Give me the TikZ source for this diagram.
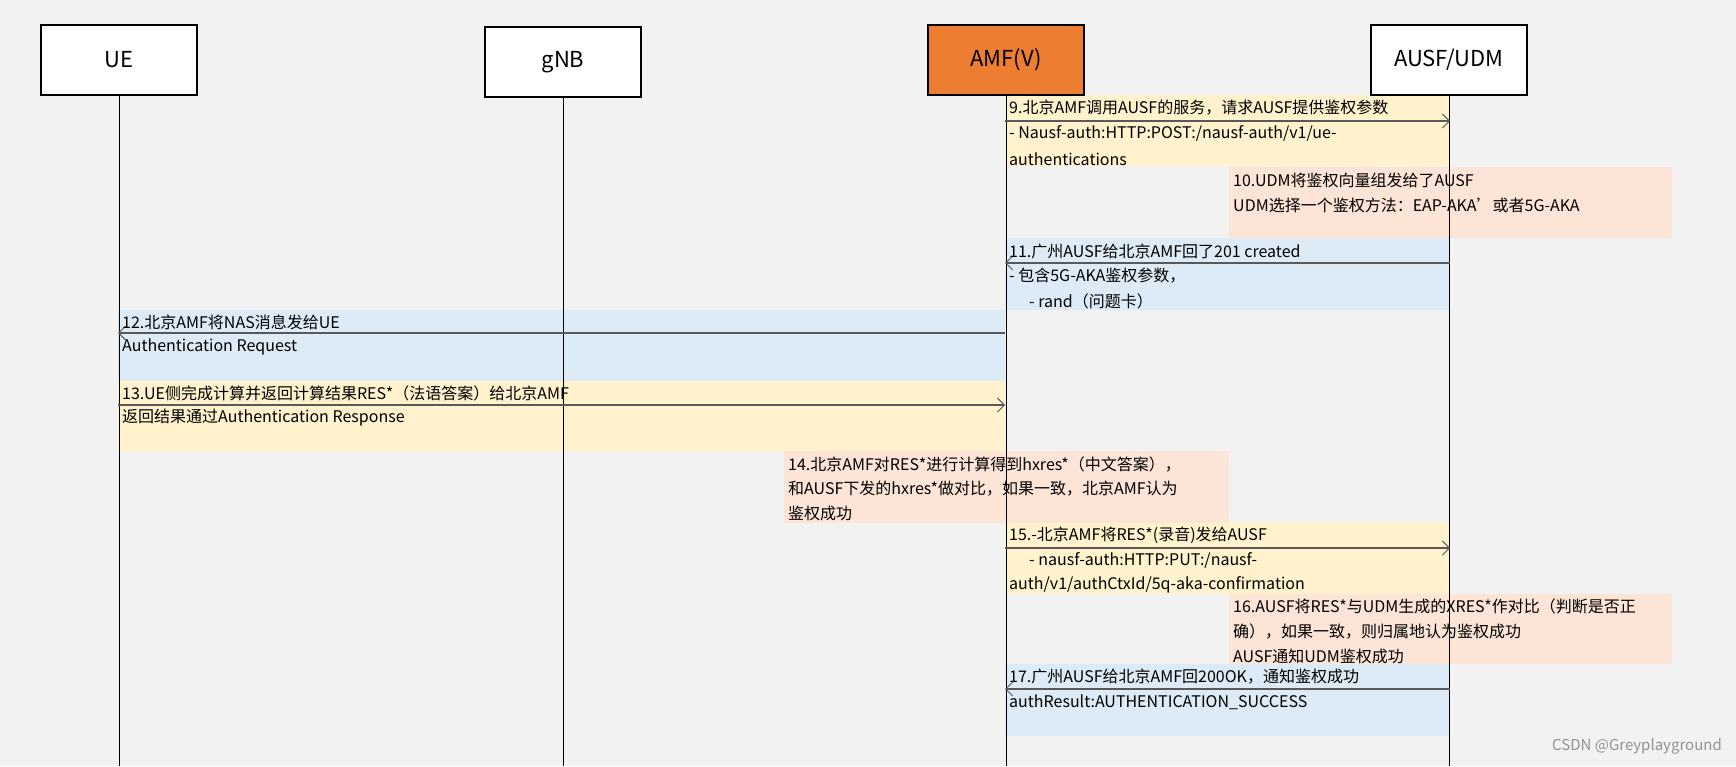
\documentclass[tikz,border=0pt]{standalone}
\usepackage{fontspec}
\setmainfont{Noto Sans CJK SC}
\usetikzlibrary{arrows.meta}
\definecolor{bg}{HTML}{F2F2F2}
\definecolor{yel}{HTML}{FFF2CC}
\definecolor{ora}{HTML}{FCE4D6}
\definecolor{blu}{HTML}{DDEBF7}
\definecolor{amf}{HTML}{ED7D31}
\definecolor{arr}{HTML}{595959}
\begin{document}
\begin{tikzpicture}[x=1pt,y=-1pt,
  head/.style={draw=black,line width=2pt,minimum width=156pt,minimum height=70pt,font=\fontsize{22}{26}\selectfont,inner sep=0pt},
  life/.style={draw=black,line width=0.6pt},
  msg/.style={draw=arr,line width=1.3pt,-{Straight Barb[length=7pt,width=14pt,line width=0.9pt]}},
  txt/.style={anchor=west,inner sep=0pt,font=\fontsize{16}{19}\selectfont},
  wm/.style={anchor=east,inner sep=0pt,text=gray!85,font=\fontsize{15}{18}\selectfont}]
\fill[bg] (0,0) rectangle (1736,766);
\useasboundingbox (0,0) rectangle (1736,766);
% background bands
\fill[yel] (1005,95) rectangle (1450,166);
\fill[ora] (1229,167) rectangle (1672,238);
\fill[blu] (1005,238) rectangle (1450,310);
\fill[blu] (118,310) rectangle (1005,381);
\fill[yel] (118,381) rectangle (1005,451);
\fill[ora] (784,451) rectangle (1229,523);
\fill[yel] (1005,523) rectangle (1450,594);
\fill[ora] (1229,594) rectangle (1672,664);
\fill[blu] (1005,664) rectangle (1450,736);
% heads
\node[head,fill=white] (ue) at (119,60) {UE};
\node[head,fill=white] (gnb) at (563,62) {gNB};
\node[head,fill=amf] (amf) at (1006,60) {AMF(V)};
\node[head,fill=white] (ausf) at (1449,60) {AUSF/UDM};
\coordinate (ueb) at (118,766);
\coordinate (gnbb) at (562,766);
\coordinate (amfb) at (1005,766);
\coordinate (ausfb) at (1450,766);
\draw[life] (ue.south) -- (ue.south |- ueb);
\draw[life] (gnb.south) -- (gnb.south |- gnbb);
\draw[life] (amf.south) -- (amf.south |- amfb);
\draw[life] (ausf.south) -- (ausf.south |- ausfb);
% arrow endpoints
\coordinate (m9a) at (1005,121); \coordinate (m9b) at (1450,121);
\coordinate (m11a) at (1450,263); \coordinate (m11b) at (1005,263);
\coordinate (m12a) at (1005,333); \coordinate (m12b) at (118,333);
\coordinate (m13a) at (118,405); \coordinate (m13b) at (1005,405);
\coordinate (m15a) at (1005,548); \coordinate (m15b) at (1450,548);
\coordinate (m17a) at (1450,689); \coordinate (m17b) at (1005,689);
\draw[msg] (m9a) -- (m9b);
\draw[msg] (m11a) -- (m11b);
\draw[msg] (m12a) -- (m12b);
\draw[msg] (m13a) -- (m13b);
\draw[msg] (m15a) -- (m15b);
\draw[msg] (m17a) -- (m17b);
% texts
\node[txt] (t9a) at (1009,108) {9.北京AMF调用AUSF的服务，请求AUSF提供鉴权参数};
\node[txt] (t9b) at (1009,133) {- Nausf-auth:HTTP:POST:/nausf-auth/v1/ue-};
\node[txt] (t9c) at (1009,159) {authentications};
\node[txt] (t10a) at (1233,180) {10.UDM将鉴权向量组发给了AUSF};
\node[txt] (t10b) at (1233,205) {UDM选择一个鉴权方法：EAP-AKA’或者5G-AKA};
\node[txt] (t11a) at (1009,251) {11.广州AUSF给北京AMF回了201 created};
\node[txt] (t11b) at (1009,276) {- 包含5G-AKA鉴权参数，};
\node[txt] (t11c) at (1029,301) {- rand（问题卡）};
\node[txt] (t12a) at (122,322) {12.北京AMF将NAS消息发给UE};
\node[txt] (t12b) at (122,347) {Authentication Request};
\node[txt] (t13a) at (122,393) {13.UE侧完成计算并返回计算结果RES*（法语答案）给北京AMF};
\node[txt] (t13b) at (122,418) {返回结果通过Authentication Response};
\node[txt] (t14a) at (788,464) {14.北京AMF对RES*进行计算得到hxres*（中文答案），};
\node[txt] (t14b) at (788,489) {和AUSF下发的hxres*做对比，如果一致，北京AMF认为};
\node[txt] (t14c) at (788,513) {鉴权成功};
\node[txt] (t15a) at (1009,535) {15.-北京AMF将RES*(录音)发给AUSF};
\node[txt] (t15b) at (1029,560) {- nausf-auth:HTTP:PUT:/nausf-};
\node[txt] (t15c) at (1009,585) {auth/v1/authCtxId/5q-aka-confirmation};
\node[txt] (t16a) at (1233,606) {16.AUSF将RES*与UDM生成的XRES*作对比（判断是否正};
\node[txt] (t16b) at (1233,631) {确），如果一致，则归属地认为鉴权成功};
\node[txt] (t16c) at (1233,656) {AUSF通知UDM鉴权成功};
\node[txt] (t17a) at (1009,677) {17.广州AUSF给北京AMF回200OK，通知鉴权成功};
\node[txt] (t17b) at (1009,702) {authResult:AUTHENTICATION\_SUCCESS};
\node[wm] (wmk) at (1722,746) {CSDN @Greyplayground};
\end{tikzpicture}
\end{document}
